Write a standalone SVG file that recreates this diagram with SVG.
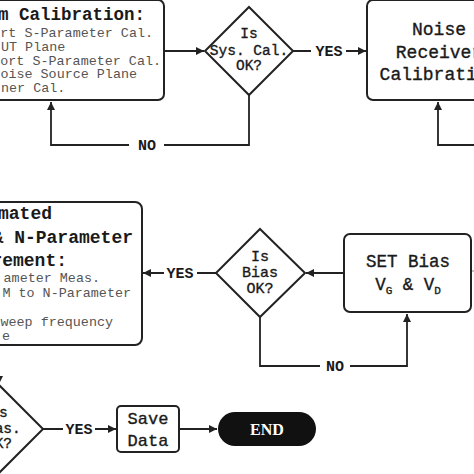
<svg xmlns="http://www.w3.org/2000/svg" width="474" height="474" viewBox="0 0 474 474">
<style>
.box{fill:#fff;stroke:#222;stroke-width:2}
.dia{fill:#fff;stroke:#222;stroke-width:2}
.ln{fill:none;stroke:#222;stroke-width:1.8}
.t{font-family:"Liberation Mono","Courier New",monospace;fill:#1a1a1a}
.m{stroke:#1a1a1a;stroke-width:0.35}
.b{font-weight:bold}
.body{font-family:"Liberation Mono","Courier New",monospace;font-size:13.4px;fill:#555}
.lbl{font-family:"Liberation Mono","Courier New",monospace;font-size:15px;font-weight:bold;fill:#1a1a1a}
.bg{fill:#fff}
</style>
<defs>
<marker id="ah" viewBox="0 0 10 10" refX="10" refY="5" markerWidth="9" markerHeight="8" markerUnits="userSpaceOnUse" orient="auto">
<path d="M0,0 L10,5 L0,10 Z" fill="#222"/>
</marker>
</defs>
<rect width="474" height="474" fill="#fff"/>

<g id="connectors">
<line class="ln" x1="164" y1="51" x2="204" y2="51" marker-end="url(#ah)"/>
<line class="ln" x1="293" y1="51" x2="366" y2="51" marker-end="url(#ah)"/>
<polyline class="ln" points="249,94 249,145 51,145 51,102" marker-end="url(#ah)"/>
<polyline class="ln" points="476,145 438,145 438,102" marker-end="url(#ah)"/>
<line class="ln" x1="216" y1="273" x2="143" y2="273" marker-end="url(#ah)"/>
<line class="ln" x1="344" y1="273" x2="306" y2="273" marker-end="url(#ah)"/>
<line x1="471" y1="271" x2="476" y2="271" stroke="#888" stroke-width="1"/>
<polyline class="ln" points="260,317 260,366 407,366 407,314" marker-end="url(#ah)"/>
<line class="ln" x1="-1" y1="355" x2="-1" y2="384" marker-end="url(#ah)"/>
<line class="ln" x1="42" y1="429" x2="116" y2="429" marker-end="url(#ah)"/>
<line class="ln" x1="179" y1="429" x2="217" y2="429" marker-end="url(#ah)"/>
<rect class="bg" x="129" y="136" width="35" height="18"/>
<text class="lbl" x="147" y="150" text-anchor="middle">NO</text>
<rect class="bg" x="311" y="42" width="35" height="18"/>
<text class="lbl" x="329" y="56" text-anchor="middle">YES</text>
<rect class="bg" x="164" y="264" width="33" height="18"/>
<text class="lbl" x="180" y="278" text-anchor="middle">YES</text>
<rect class="bg" x="320" y="357" width="30" height="18"/>
<text class="lbl" x="335" y="371" text-anchor="middle">NO</text>
<rect class="bg" x="63" y="420" width="32" height="18"/>
<text class="lbl" x="79" y="434" text-anchor="middle">YES</text>
</g>

<g id="sys-cal">
<rect class="box" x="-20" y="0" width="184" height="100" rx="6"/>
<text class="t b" x="145" y="20" font-size="17.5" text-anchor="end">m Calibration:</text>
<text class="body" x="153" y="37" text-anchor="end">rt S-Parameter Cal.</text>
<text class="body" x="1" y="51">UT Plane</text>
<text class="body" x="161" y="65" text-anchor="end">ort S-Parameter Cal.</text>
<text class="body" x="137" y="78" text-anchor="end">oise Source Plane</text>
<text class="body" x="1" y="92">ner Cal.</text>
</g>

<g id="sys-cal-ok">
<polygon class="dia" points="249,7 293,51 249,95 205,51"/>
<text class="t m" x="249" y="38" font-size="14.5" text-anchor="middle">Is</text>
<text class="t m" x="249" y="55" font-size="14.5" text-anchor="middle">Sys. Cal.</text>
<text class="t m" x="249" y="70" font-size="14.5" text-anchor="middle">OK?</text>
</g>

<g id="noise-rx-cal">
<rect class="box" x="367" y="0" width="130" height="100" rx="6"/>
<text class="t m" x="439" y="35" font-size="18" text-anchor="middle">Noise</text>
<text class="t m" x="439" y="58" font-size="18" text-anchor="middle">Receiver</text>
<text class="t m" x="439" y="80" font-size="18" text-anchor="middle">Calibration</text>
</g>

<g id="auto-meas">
<rect class="box" x="-20" y="202" width="162" height="143" rx="7"/>
<text class="t b" x="52" y="219" font-size="18" text-anchor="end">mated</text>
<text class="t b" x="133" y="243" font-size="18" text-anchor="end">&amp; N-Parameter</text>
<text class="t b" x="67" y="266" font-size="18" text-anchor="end">rement:</text>
<text class="body" x="100" y="282" text-anchor="end">ameter Meas.</text>
<text class="body" x="131" y="297" text-anchor="end">M to N-Parameter</text>
<text class="body" x="113" y="326" text-anchor="end">weep frequency</text>
<text class="body" x="10" y="340" text-anchor="end">e</text>
</g>

<g id="bias-ok">
<polygon class="dia" points="260,229 305,273 260,317 216,273"/>
<text class="t m" x="260" y="261" font-size="15" text-anchor="middle">Is</text>
<text class="t m" x="260" y="277" font-size="15" text-anchor="middle">Bias</text>
<text class="t m" x="260" y="293" font-size="15" text-anchor="middle">OK?</text>
</g>

<g id="set-bias">
<rect class="box" x="344" y="234" width="127" height="78" rx="6"/>
<text class="t m" x="408" y="267" font-size="17.5" text-anchor="middle">SET Bias</text>
<text class="t m" x="408" y="290" font-size="17.5" text-anchor="middle">V<tspan font-size="11" dy="4">G</tspan><tspan dy="-4"> &amp; V</tspan><tspan font-size="11" dy="4">D</tspan></text>
</g>

<g id="meas-ok">
<polygon class="dia" points="-1,385 43,429 -1,473 -45,429"/>
<text class="t m" x="-1" y="417" font-size="14.5" text-anchor="middle">Is</text>
<text class="t m" x="-1" y="433" font-size="14.5" text-anchor="middle">Meas.</text>
<text class="t m" x="-1" y="448" font-size="14.5" text-anchor="middle">OK?</text>
</g>

<g id="save-data">
<rect class="box" x="117" y="406" width="62" height="46" rx="4"/>
<text class="t m" x="148" y="424" font-size="17" text-anchor="middle">Save</text>
<text class="t m" x="148" y="446" font-size="17" text-anchor="middle">Data</text>
</g>

<g id="end">
<rect x="218" y="412" width="98" height="34" rx="17" fill="#111"/>
<text x="267" y="435" font-family="Liberation Serif,Times New Roman,serif" font-size="16" font-weight="bold" fill="#fff" text-anchor="middle">END</text>
</g>
</svg>
